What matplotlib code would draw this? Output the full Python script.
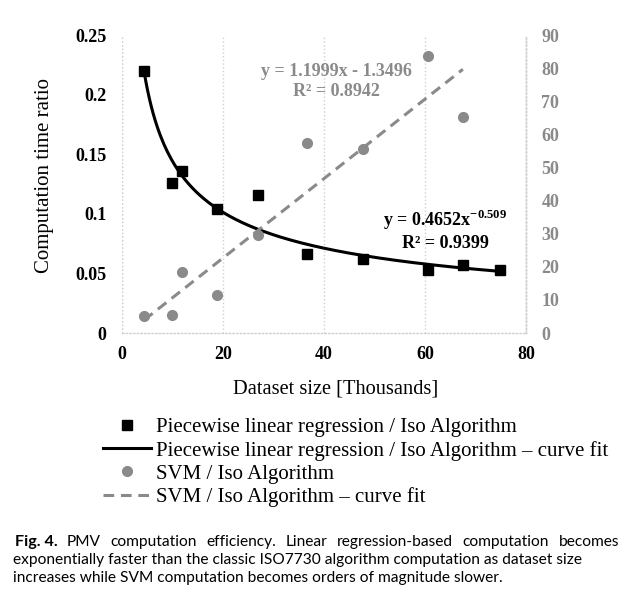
import numpy as np
import matplotlib.pyplot as plt

# data (dataset size in thousands)
pw_x = [4.4, 10.0, 11.9, 18.8, 26.9, 36.7, 47.8, 60.6, 67.5, 74.9]
pw_ratio = [0.220, 0.126, 0.136, 0.104, 0.116, 0.066, 0.062, 0.053, 0.057, 0.053]
svm_x = [4.4, 10.0, 11.9, 18.8, 26.9, 36.7, 47.8, 60.6, 67.5]
svm_ratio = [5.1, 5.3, 18.5, 11.5, 29.7, 57.3, 55.6, 83.7, 65.3]

# trend lines as given by the figure's equations
pw_a, pw_b = 0.4652, -0.509
svm_m, svm_c = 1.1999, -1.3496

grey = '#8a8a8a'
serif = 'Liberation Serif'
plt.rcParams['font.family'] = serif
plt.rcParams['mathtext.fontset'] = 'custom'
plt.rcParams['mathtext.rm'] = serif
plt.rcParams['mathtext.bf'] = serif + ':bold'

fig = plt.figure(figsize=(6.31, 6.07), dpi=100)
ax = fig.add_axes([0.1933, 0.4514, 0.6403, 0.4909])
ax2 = ax.twinx()

xf = np.linspace(min(pw_x), max(pw_x), 200)
h1, = ax.plot(pw_x, pw_ratio, 's', color='black', ms=6.5, ls='none')
h2, = ax.plot(xf, pw_a * xf ** pw_b, color='black', lw=2.2)

xs = np.array([min(svm_x), max(svm_x)])
h3, = ax2.plot(svm_x, svm_ratio, 'o', color=grey, ms=7, ls='none')
h4, = ax2.plot(xs, svm_m * xs + svm_c, color=grey, lw=2.2, ls=(0, (3.5, 2.2)))

ax.set_xlim(0, 80)
ax.set_ylim(0, 0.25)
ax2.set_ylim(0, 90)
ax.set_xticks([0, 20, 40, 60, 80])
ax.set_yticks([0, 0.05, 0.1, 0.15, 0.2, 0.25])
ax.set_yticklabels(['0', '0.05', '0.1', '0.15', '0.2', '0.25'])
ax2.set_yticks(range(0, 91, 10))

for a in (ax, ax2):
    a.spines['top'].set_visible(False)
    a.spines['left'].set_visible(False)
    for s in ('bottom', 'right'):
        a.spines[s].set_color('#d0d0d0')
        a.spines[s].set_linestyle(':')
        a.spines[s].set_linewidth(1)
ax2.spines['bottom'].set_visible(False)
ax.xaxis.grid(True, color='#d0d0d0', ls=':', lw=1)
ax.axvline(0, color='#d0d0d0', ls=':', lw=1)

ax.tick_params(axis='x', length=0, labelsize=13, pad=9)
ax.tick_params(axis='y', length=0, labelsize=13, pad=11)
ax2.tick_params(axis='y', length=0, labelsize=13, labelcolor=grey, pad=11)
for lab in ax.get_xticklabels() + ax.get_yticklabels():
    lab.set_fontweight('bold')
for lab in ax2.get_yticklabels():
    lab.set_fontweight('bold')

ax.set_ylabel('Computation time ratio', fontsize=15)
ax.yaxis.set_label_coords(-0.168, 0.53)
ax.set_xlabel('Dataset size [Thousands]', fontsize=14.7)
ax.xaxis.set_label_coords(0.53, -0.155)

ax.text(0.53, 0.845, 'y = 1.1999x - 1.3496\nR² = 0.8942', transform=ax.transAxes,
        ha='center', va='center', color=grey, fontsize=13, fontweight='bold',
        linespacing=1.25)
ax.text(0.80, 0.345, r'y = 0.4652x$^{\mathbf{-0.509}}$' + '\nR² = 0.9399', transform=ax.transAxes,
        ha='center', va='center', color='black', fontsize=13, fontweight='bold',
        linespacing=1.25)

fig.legend([h1, h2, h3, h4],
           ['Piecewise linear regression / Iso Algorithm',
            'Piecewise linear regression / Iso Algorithm – curve fit',
            'SVM / Iso Algorithm',
            'SVM / Iso Algorithm – curve fit'],
           loc='upper left', bbox_to_anchor=(0.163, 0.312), frameon=False,
           fontsize=15, handlelength=2.3, handletextpad=0.25, labelspacing=0.17,
           borderpad=0, borderaxespad=0)

cap = 'Lato'
cs = 11.2
fig.text(15 / 631, 1 - 546 / 607, 'Fig. 4.', fontsize=cs + 0.4, fontweight='bold', family=cap)

# first caption line is justified between x=67 and x=619 px
words = 'PMV computation efficiency. Linear regression-based computation becomes'.split()
r = fig.canvas.get_renderer()
ws = []
for w in words:
    tt = fig.text(0, 0, w, fontsize=cs, family=cap)
    ws.append(tt.get_window_extent(r).width)
    tt.remove()
gap = (619 - 67 - sum(ws)) / (len(words) - 1)
xp = 67
for w, wd in zip(words, ws):
    fig.text(xp / 631, 1 - 546 / 607, w, fontsize=cs, family=cap)
    xp += wd + gap

fig.text(13 / 631, 1 - 564 / 607,
         'exponentially faster than the classic ISO7730 algorithm computation as dataset size',
         fontsize=cs, family=cap)
fig.text(13 / 631, 1 - 582 / 607,
         'increases while SVM computation becomes orders of magnitude slower.',
         fontsize=cs, family=cap)

fig.savefig('out.png', dpi=100)
